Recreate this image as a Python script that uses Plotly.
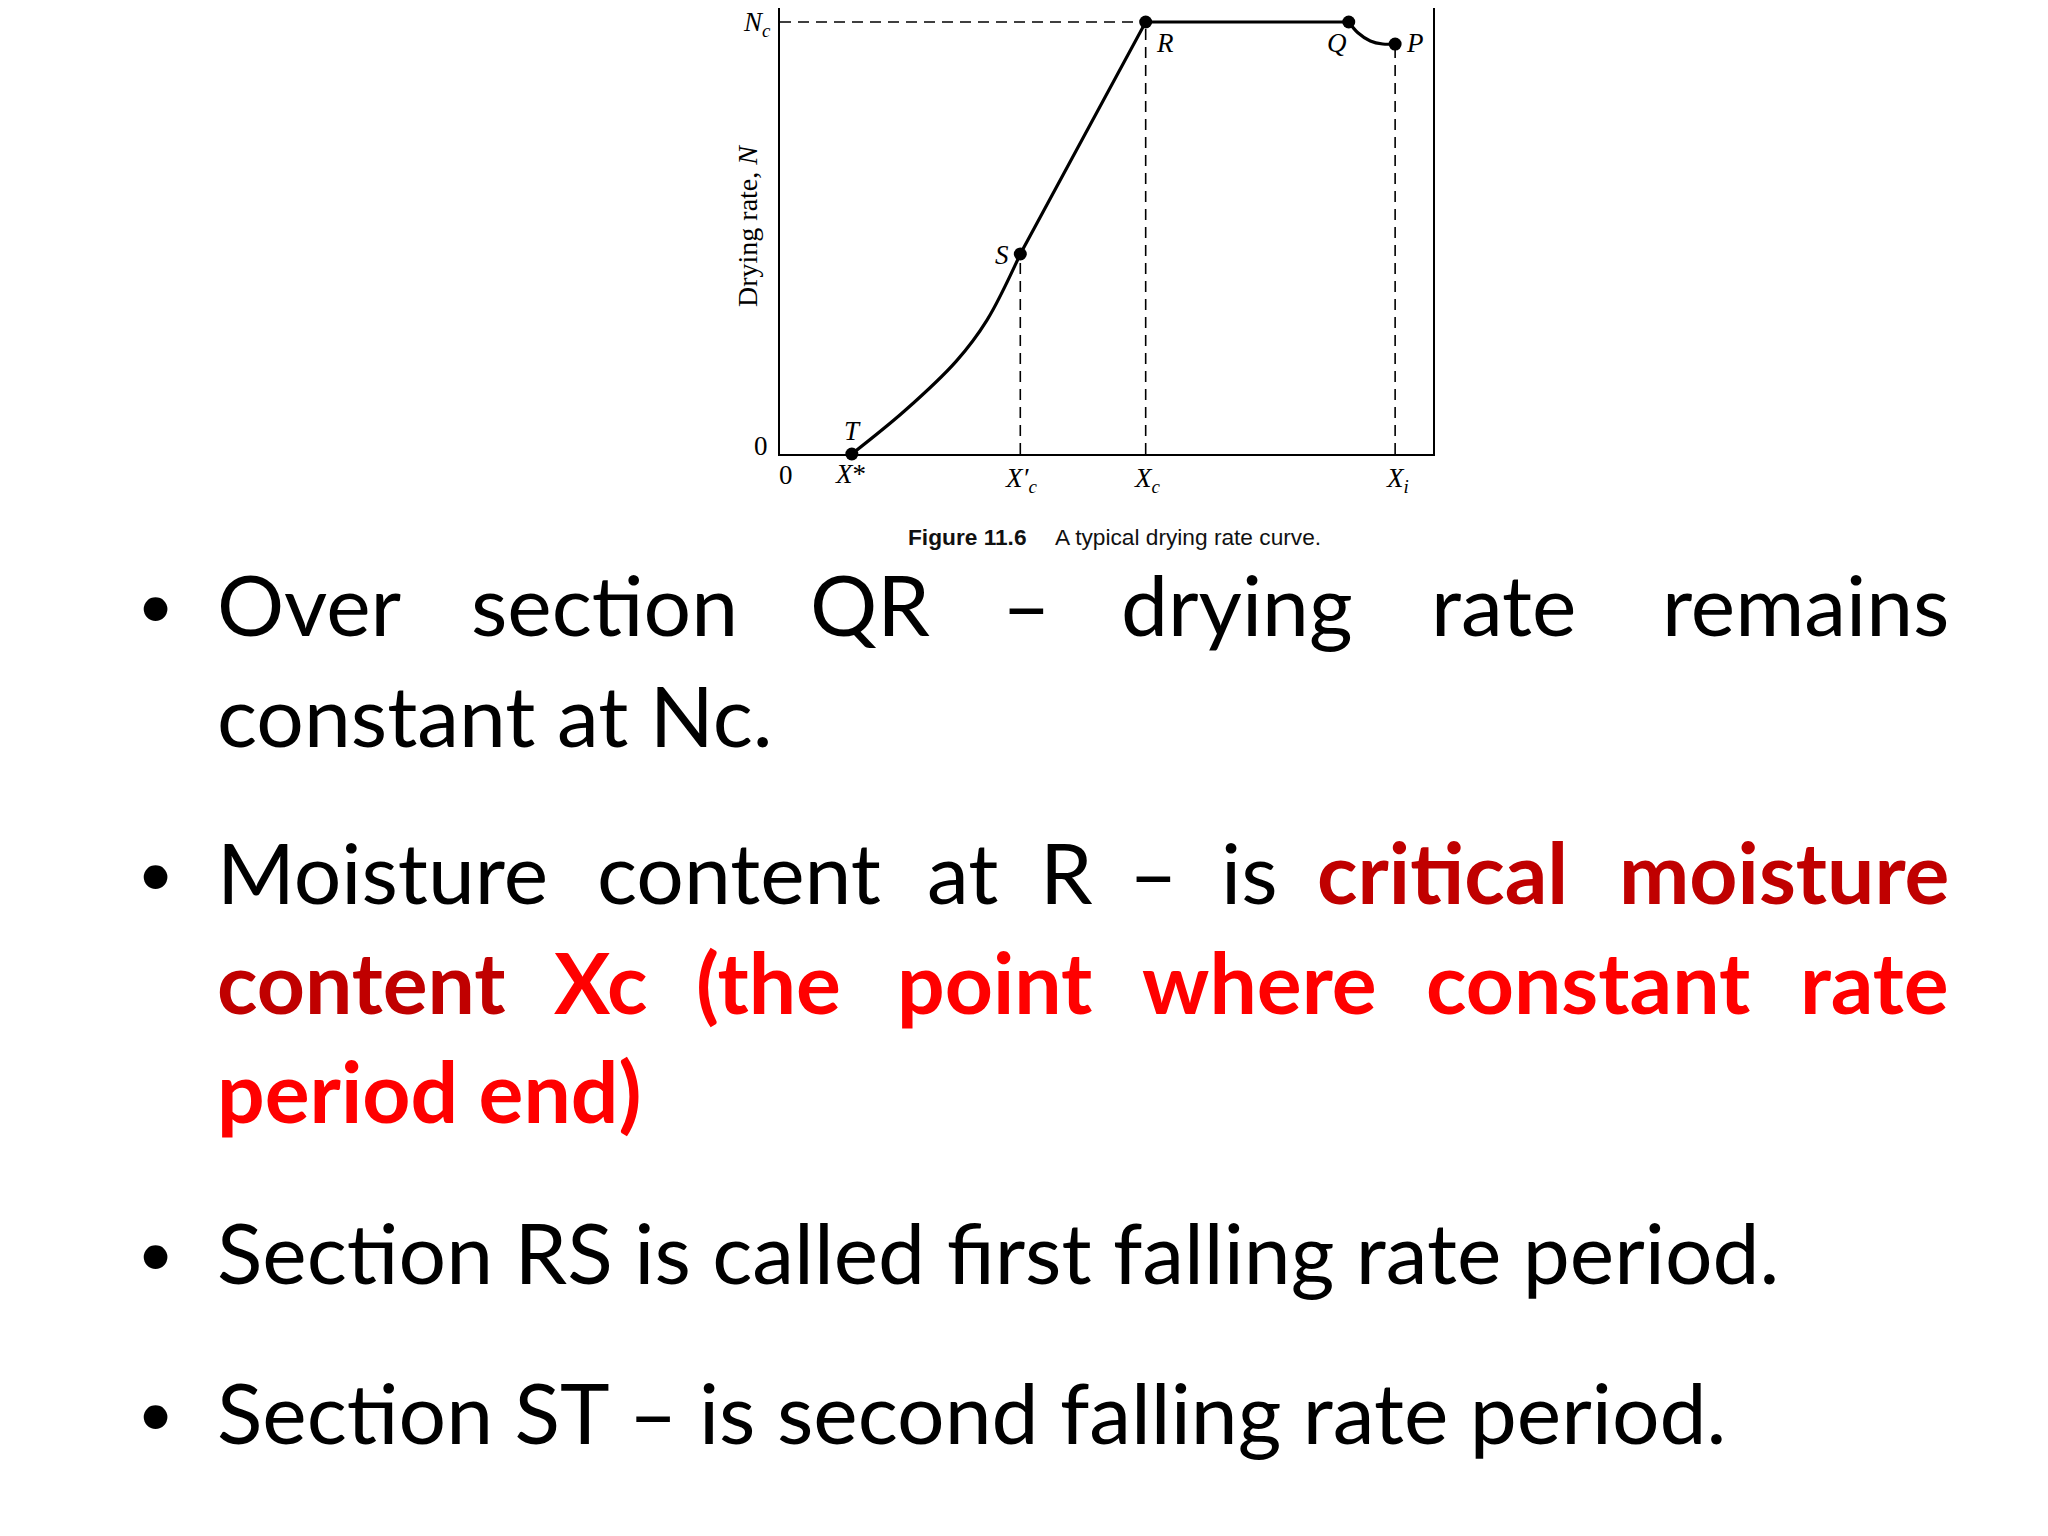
import plotly.graph_objects as go

W, H = 2048, 1536
OFF = 8  # page body margin

# drying-rate curve (x: moisture content, y: rate / Nc)
falling2_x = [1.10, 1.91, 2.70, 3.17, 3.68]
falling2_y = [0.0, 0.100, 0.215, 0.310, 0.463]
falling1_x = [3.68, 5.60, 8.71]
falling1_y = [0.463, 1.0, 1.0]
warmup_x = [8.71, 8.85, 9.04, 9.23, 9.42]
warmup_y = [1.0, 0.975, 0.956, 0.949, 0.949]

point_names = ["T", "S", "R", "Q", "P"]
point_x = [1.10, 3.68, 5.60, 8.71, 9.42]
point_y = [0.0, 0.463, 1.0, 1.0, 0.949]

# bullet text lines
DARK_RED = "#c00000"
RED = "#ff0000"
line1 = ["Over", "section", "QR", "–", "drying", "rate", "remains"]
line2 = "constant at Nc."
line3 = ["Moisture", "content", "at", "R", "–", "is", "critical", "moisture"]
line4 = ["content", "Xc", "(the", "point", "where", "constant", "rate"]
line5 = "period end)"
line6 = "Section RS is called first falling rate period."
line7 = "Section ST – is second falling rate period."


def px(x):
    return (x - OFF) / W


def py(y):
    return 1 - (y - OFF) / H


fig = go.Figure()

dash = dict(color="black", width=1.6, dash="11px,7px")
fig.add_trace(go.Scatter(x=[0, point_x[2]], y=[1, 1], mode="lines", line=dash))
for i in (1, 2, 4):
    fig.add_trace(go.Scatter(x=[point_x[i], point_x[i]], y=[0, point_y[i]],
                             mode="lines", line=dash))

solid = dict(color="black", width=3.2)
fig.add_trace(go.Scatter(x=falling2_x, y=falling2_y, mode="lines",
                         line=dict(shape="spline", smoothing=1.0, **solid)))
fig.add_trace(go.Scatter(x=falling1_x, y=falling1_y, mode="lines", line=solid))
fig.add_trace(go.Scatter(x=warmup_x, y=warmup_y, mode="lines",
                         line=dict(shape="spline", **solid)))
fig.add_trace(go.Scatter(x=point_x, y=point_y, mode="markers", cliponaxis=False,
                         marker=dict(color="black", size=13)))

serif = dict(family="Liberation Serif, Times New Roman, serif", size=27, color="black")
ann = []


def label(text, x, y, font, xanchor="center", yanchor="middle", **kw):
    ann.append(dict(text=text, x=px(x), y=py(y), xref="paper", yref="paper",
                    xanchor=xanchor, yanchor=yanchor, showarrow=False, font=font, **kw))


# point letters
for name, (lx, ly) in zip(point_names, [(852, 431), (1002, 255), (1165, 43), (1337, 43), (1415, 43)]):
    label(f"<i>{name}</i>", lx, ly, serif)

# axis labels
label("0", 761, 446, serif)
label("<i>N<sub>c</sub></i>", 757, 24, serif)
label("0", 786, 475, serif)
label("<i>X</i>*", 850, 474, serif)
label("<i>X′<sub>c</sub></i>", 1021, 480, serif)
label("<i>X<sub>c</sub></i>", 1147, 480, serif)
label("<i>X<sub>i</sub></i>", 1397, 480, serif)
label("Drying rate, <i>N</i>", 747, 226, dict(serif, size=28), textangle=-90)

# caption
cap = dict(family="Liberation Sans Narrow, Arial Narrow, Liberation Sans, sans-serif",
           size=22.7, color="#111111")
label("<b>Figure 11.6</b>", 906, 537, cap, xanchor="left")
label("A typical drying rate curve.", 1053, 537, cap, xanchor="left")

# bullets
body = dict(family="Lato, Carlito, Calibri, sans-serif", size=84, color="black")
dot = dict(body, size=64)
LEFT, RIGHT = 215, 1951
LIFT = 33


def bullet(base):
    label("•", 155, base - LIFT, dot)


def justified(words, centers, base, fonts):
    for i, (w, c, f) in enumerate(zip(words, centers, fonts)):
        if i == 0:
            label(w, LEFT, base - LIFT, f, xanchor="left")
        elif i == len(words) - 1:
            label(w, RIGHT, base - LIFT, f, xanchor="right")
        else:
            label(w, c, base - LIFT, f)


bold_dark = dict(body, family="Lato Bold, Lato, sans-serif", color=DARK_RED)
bold_red = dict(body, family="Lato Bold, Lato, sans-serif", color=RED)

bullet(636)
justified(line1, [0, 604, 870, 1026, 1237, 1503, 0], 636, [body] * 7)
label(line2, LEFT, 747 - LIFT, body, xanchor="left")

bullet(904)
justified(line3, [0, 739, 962, 1066, 1153, 1249, 1442, 0], 904,
          [body] * 6 + [bold_dark] * 2)
justified(line4, [0, 600, 768, 994, 1259, 1588, 0], 1014,
          [bold_dark] + [bold_red] * 6)
label(line5, LEFT, 1123 - LIFT, bold_red, xanchor="left")

bullet(1284)
label(line6, LEFT, 1284 - LIFT, body, xanchor="left")
bullet(1444)
label(line7, LEFT, 1444 - LIFT, body, xanchor="left")

for a in ann:
    if a["font"] is bold_dark or a["font"] is bold_red:
        a["text"] = "<b>" + a["text"] + "</b>"

fig.update_layout(
    width=W, height=H,
    margin=dict(l=0, r=0, t=0, b=0),
    paper_bgcolor="white", plot_bgcolor="white",
    showlegend=False,
    annotations=ann,
    xaxis=dict(domain=[px(780), px(1433)], range=[0, 10], showgrid=False,
               zeroline=False, showticklabels=False, ticks="",
               showline=True, linecolor="black", linewidth=2),
    yaxis=dict(domain=[py(454), 1], range=[0, (454 - OFF) / 432], showgrid=False,
               zeroline=False, showticklabels=False, ticks="",
               showline=True, mirror=True, linecolor="black", linewidth=2),
)

fig.write_html("out.html")
